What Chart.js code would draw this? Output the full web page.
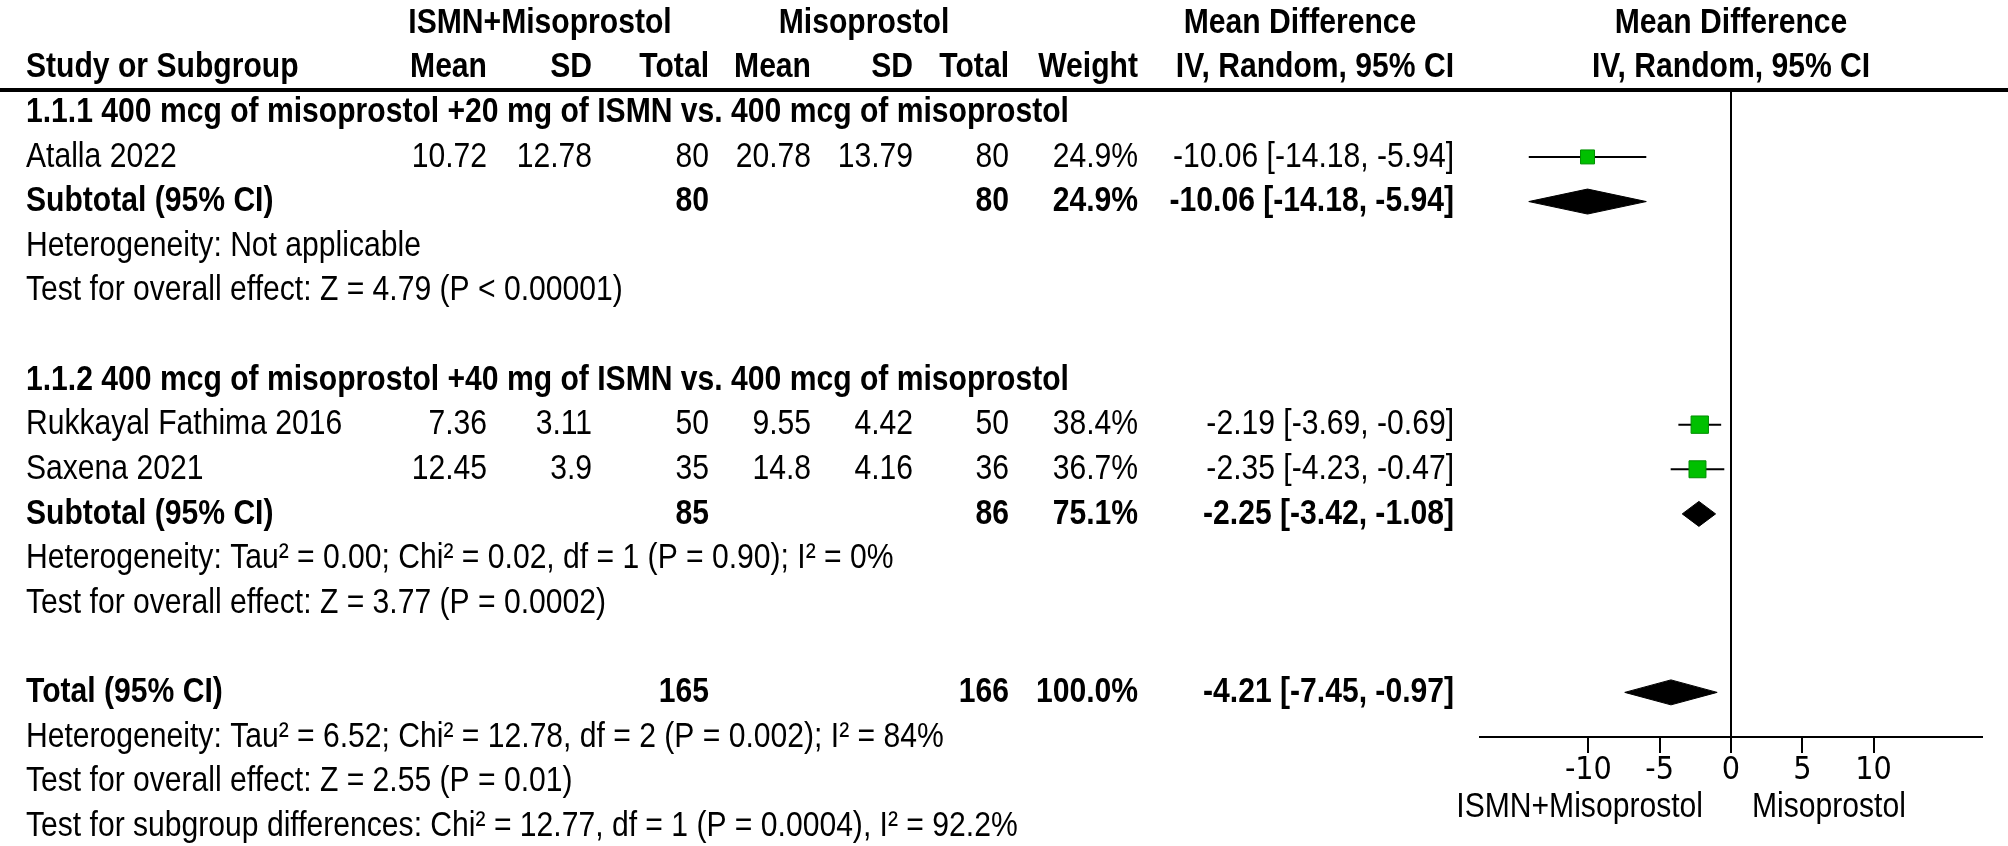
<!DOCTYPE html>
<html>
<head>
<meta charset="utf-8">
<script src="https://cdn.jsdelivr.net/npm/chart.js@4.4.1/dist/chart.umd.min.js"></script>
<style>
  html, body { margin: 0; padding: 0; background: #fff; }
  canvas { display: block; }
</style>
</head>
<body>
<canvas id="forest" width="2008" height="846"></canvas>
<script>
// study rows
const studyNames = ['Atalla 2022', 'Rukkayal Fathima 2016', 'Saxena 2021'];
const studyRows = [1, 7, 8];
const expMean = [10.72, 7.36, 12.45];
const expSD = [12.78, 3.11, 3.9];
const expTotal = [80, 50, 35];
const ctlMean = [20.78, 9.55, 14.8];
const ctlSD = [13.79, 4.42, 4.16];
const ctlTotal = [80, 50, 36];
const studyWeight = [24.9, 38.4, 36.7];
const studyMD = [-10.06, -2.19, -2.35];
const studyLow = [-14.18, -3.69, -4.23];
const studyHigh = [-5.94, -0.69, -0.47];

// pooled rows (subtotals + total)
const pooledNames = ['Subtotal (95% CI)', 'Subtotal (95% CI)', 'Total (95% CI)'];
const pooledRows = [2, 9, 13];
const pooledExpN = [80, 85, 165];
const pooledCtlN = [80, 86, 166];
const pooledWeight = [24.9, 75.1, 100.0];
const pooledMD = [-10.06, -2.25, -4.21];
const pooledLow = [-14.18, -3.42, -7.45];
const pooledHigh = [-5.94, -1.08, -0.97];

const subgroupTitles = [
  '1.1.1 400 mcg of misoprostol +20 mg of ISMN vs. 400 mcg of misoprostol',
  '1.1.2 400 mcg of misoprostol +40 mg of ISMN vs. 400 mcg of misoprostol'
];
const subgroupRows = [0, 6];

const noteRows = [3, 4, 10, 11, 14, 15, 16];
const noteTexts = [
  'Heterogeneity: Not applicable',
  'Test for overall effect: Z = 4.79 (P < 0.00001)',
  'Heterogeneity: Tau² = 0.00; Chi² = 0.02, df = 1 (P = 0.90); I² = 0%',
  'Test for overall effect: Z = 3.77 (P = 0.0002)',
  'Heterogeneity: Tau² = 6.52; Chi² = 12.78, df = 2 (P = 0.002); I² = 84%',
  'Test for overall effect: Z = 2.55 (P = 0.01)',
  'Test for subgroup differences: Chi² = 12.77, df = 1 (P = 0.0004), I² = 92.2%'
];

const tickValues = [-10, -5, 0, 5, 10];
const favoursLeft = 'ISMN+Misoprostol';
const favoursRight = 'Misoprostol';

// layout
const FONT = '"Liberation Sans", Arial, sans-serif';
const FS = 35;          // glyph height
const SQUEEZE = 0.86;   // narrow look, like Arial Narrow
const colRight = [487, 592, 709, 811, 913, 1009, 1138, 1454];
const textLeft = 26;
const diamondHalf = 0.28;

function fmt(v) { return v.toFixed(2); }
function ciText(m, lo, hi) { return fmt(m) + ' [' + fmt(lo) + ', ' + fmt(hi) + ']'; }

const datasets = [];

datasets.push({
  data: studyMD.map((m, i) => ({ x: m, y: studyRows[i] })),
  pointStyle: 'rect',
  pointRadius: studyWeight.map(w => 2.8 * Math.sqrt(w) / Math.SQRT2),
  backgroundColor: '#00c000',
  borderColor: '#008f00',
  borderWidth: 1,
  order: 0
});

studyMD.forEach((m, i) => {
  datasets.push({
    data: [{ x: studyLow[i], y: studyRows[i] }, { x: studyHigh[i], y: studyRows[i] }],
    showLine: true, borderColor: '#000', borderWidth: 2, pointRadius: 0, order: 1
  });
});

pooledMD.forEach((m, i) => {
  const r = pooledRows[i];
  datasets.push({
    data: [
      { x: pooledLow[i], y: r },
      { x: m, y: r - diamondHalf },
      { x: pooledHigh[i], y: r },
      { x: m, y: r + diamondHalf },
      { x: pooledLow[i], y: r }
    ],
    showLine: true, fill: 'shape', backgroundColor: '#000', borderColor: '#000',
    borderWidth: 1, pointRadius: 0, tension: 0, order: 1
  });
});

// line of no effect
datasets.push({
  data: [{ x: 0, y: -0.5 }, { x: 0, y: 14 }],
  showLine: true, borderColor: '#000', borderWidth: 2, pointRadius: 0, order: 2
});

const tablePlugin = {
  id: 'tableText',
  afterDraw(chart) {
    const { ctx, scales: { x, y } } = chart;
    const rowY = r => y.getPixelForValue(r);
    const put = (txt, px, py, align, bold) => {
      ctx.save();
      ctx.fillStyle = '#000';
      ctx.textBaseline = 'middle';
      ctx.font = (bold ? 'bold ' : '') + FS + 'px ' + FONT;
      ctx.textAlign = align;
      ctx.translate(px, py);
      ctx.scale(SQUEEZE, 1);
      ctx.fillText(String(txt), 0, 0);
      ctx.restore();
    };
    const cell = (txt, px, r, align, bold) => put(txt, px, rowY(r), align, bold);

    // header rule
    ctx.fillStyle = '#000';
    ctx.fillRect(0, rowY(-0.5) - 2, chart.width, 4);

    // headers
    cell('ISMN+Misoprostol', 540, -2, 'center', true);
    cell('Misoprostol', 864, -2, 'center', true);
    cell('Mean Difference', 1300, -2, 'center', true);
    cell('Mean Difference', x.getPixelForValue(0), -2, 'center', true);
    cell('Study or Subgroup', textLeft, -1, 'left', true);
    ['Mean', 'SD', 'Total', 'Mean', 'SD', 'Total', 'Weight', 'IV, Random, 95% CI']
      .forEach((h, i) => cell(h, colRight[i], -1, 'right', true));
    cell('IV, Random, 95% CI', x.getPixelForValue(0), -1, 'center', true);

    subgroupTitles.forEach((t, i) => cell(t, textLeft, subgroupRows[i], 'left', true));

    studyNames.forEach((n, i) => {
      const r = studyRows[i];
      cell(n, textLeft, r, 'left', false);
      const cells = [expMean[i], expSD[i], expTotal[i], ctlMean[i], ctlSD[i], ctlTotal[i],
        studyWeight[i].toFixed(1) + '%', ciText(studyMD[i], studyLow[i], studyHigh[i])];
      cells.forEach((c, k) => cell(c, colRight[k], r, 'right', false));
    });

    pooledNames.forEach((n, i) => {
      const r = pooledRows[i];
      cell(n, textLeft, r, 'left', true);
      cell(pooledExpN[i], colRight[2], r, 'right', true);
      cell(pooledCtlN[i], colRight[5], r, 'right', true);
      cell(pooledWeight[i].toFixed(1) + '%', colRight[6], r, 'right', true);
      cell(ciText(pooledMD[i], pooledLow[i], pooledHigh[i]), colRight[7], r, 'right', true);
    });

    noteTexts.forEach((t, i) => cell(t, textLeft, noteRows[i], 'left', false));

    // favours labels under the axis
    put(favoursLeft, x.getPixelForValue(0) - 28, 807, 'right', false);
    put(favoursRight, x.getPixelForValue(0) + 21, 807, 'left', false);
  }
};

new Chart(document.getElementById('forest').getContext('2d'), {
  type: 'scatter',
  data: { datasets },
  options: {
    responsive: false,
    animation: false,
    devicePixelRatio: 1,
    layout: { padding: { left: 1480, right: 26, top: 90, bottom: 59 } },
    plugins: { legend: { display: false }, tooltip: { enabled: false } },
    scales: {
      x: {
        type: 'linear',
        min: -17.6,
        max: 17.6,
        border: { display: true, color: '#000', width: 2 },
        grid: { display: true, drawOnChartArea: false, drawTicks: true, tickLength: 16, color: '#000', lineWidth: 2 },
        ticks: {
          includeBounds: false, stepSize: 5, color: '#000', padding: -2,
          font: { family: '"Liberation Sans Narrow", "Arial Narrow", "DejaVu Sans Condensed", sans-serif', size: 32 }
        },
        afterBuildTicks: s => { s.ticks = tickValues.map(v => ({ value: v })); },
        afterFit: s => { s.height = 50; }
      },
      y: { type: 'linear', min: -0.5, max: 14, reverse: true, display: false }
    }
  },
  plugins: [tablePlugin]
});
</script>
</body>
</html>
